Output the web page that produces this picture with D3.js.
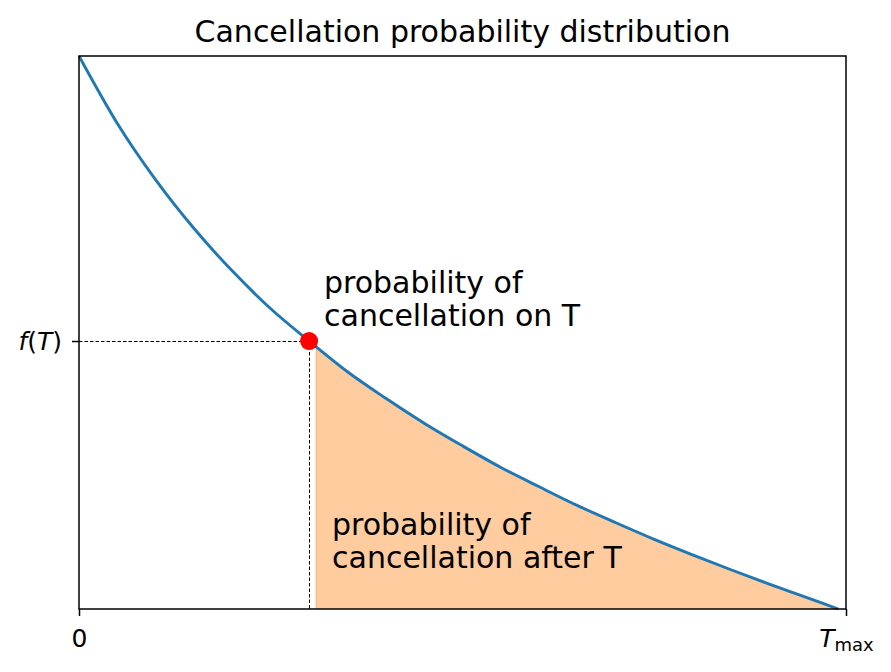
<!DOCTYPE html>
<html>
<head>
<meta charset="utf-8">
<script src="https://cdn.jsdelivr.net/npm/d3@7"></script>
<style>
  body { margin: 0; background: #fff; }
  svg text { font-family: "DejaVu Sans", sans-serif; }
</style>
</head>
<body>
<svg id="chart"></svg>
<script>
// values (t as fraction of Tmax, density normalised to f(0)=1)
var tValues = [0, 0.05, 0.1, 0.15, 0.2, 0.25, 0.3, 0.35, 0.4, 0.45, 0.5, 0.55, 0.6, 0.65, 0.7, 0.75, 0.8, 0.85, 0.9, 0.95, 0.99];
var densityValues = [1, 0.878, 0.776, 0.688, 0.611, 0.543, 0.4846, 0.429, 0.381, 0.336, 0.295, 0.256, 0.221, 0.187, 0.156, 0.126, 0.098, 0.071, 0.045, 0.020, 0];
var cancelT = [0.3];
var cancelDensity = [0.4846];
var fillStart = [0.309];
var xTickValues = [0, 1];
var xTickLabels = ["0", "Tmax"];
var annotations = ["probability of", "cancellation on T", "probability of", "cancellation after T"];

var margin = {top: 56, right: 45, bottom: 63, left: 79},
    width = 891 - margin.left - margin.right,
    height = 672 - margin.top - margin.bottom;

var data = tValues.map(function (t, i) { return {t: t, v: densityValues[i]}; });

var svg = d3.select("#chart")
    .attr("width", width + margin.left + margin.right)
    .attr("height", height + margin.top + margin.bottom);
var g = svg.append("g")
    .attr("transform", "translate(" + margin.left + "," + margin.top + ")");

var x = d3.scaleLinear().domain([0, 1]).range([0, width]);
var y = d3.scaleLinear().domain([0, 1]).range([height, 0]);

// shaded area after T
g.append("clipPath").attr("id", "after")
  .append("rect")
    .attr("x", x(fillStart[0])).attr("y", 0)
    .attr("width", width - x(fillStart[0])).attr("height", height);

var area = d3.area()
    .x(function (d) { return x(d.t); })
    .y0(y(0))
    .y1(function (d) { return y(d.v); })
    .curve(d3.curveMonotoneX);

g.append("path")
    .datum(data)
    .attr("clip-path", "url(#after)")
    .attr("fill", "#ff7f0e")
    .attr("fill-opacity", 0.4)
    .attr("d", area);
g.append("line")
    .attr("x1", x(fillStart[0])).attr("x2", x(fillStart[0]))
    .attr("y1", y(0)).attr("y2", y(cancelDensity[0]) + 6)
    .attr("stroke", "#ff7f0e").attr("stroke-opacity", 0.4).attr("stroke-width", 1);

// dashed guide lines
g.append("line")
    .attr("x1", x(0)).attr("x2", x(cancelT[0]))
    .attr("y1", Math.round(y(cancelDensity[0])) + 0.5).attr("y2", Math.round(y(cancelDensity[0])) + 0.5)
    .attr("stroke", "black").attr("stroke-width", 1).attr("stroke-dasharray", "3.5,2");
g.append("line")
    .attr("x1", Math.round(x(cancelT[0])) + 0.5).attr("x2", Math.round(x(cancelT[0])) + 0.5)
    .attr("y1", y(cancelDensity[0])).attr("y2", y(0))
    .attr("stroke", "black").attr("stroke-width", 1).attr("stroke-dasharray", "3.5,2");

// density curve
var line = d3.line()
    .x(function (d) { return x(d.t); })
    .y(function (d) { return y(d.v); })
    .curve(d3.curveMonotoneX);
g.append("path")
    .datum(data)
    .attr("fill", "none")
    .attr("stroke", "#1f77b4")
    .attr("stroke-width", 2.9)
    .attr("d", line);

g.append("circle")
    .attr("cx", x(cancelT[0])).attr("cy", y(cancelDensity[0]))
    .attr("r", 9).attr("fill", "red");

// axes
var xAxis = g.append("g")
    .attr("transform", "translate(0," + height + ")")
    .call(d3.axisBottom(x).tickValues(xTickValues).tickSize(7).tickPadding(13))
xAxis.select(".domain").remove();
xAxis.selectAll("line").attr("stroke-width", 1.5);
xAxis.selectAll("text")
    .attr("fill", "black").style("font-size", "25px")
    .each(function (d, i) {
        var t = d3.select(this).text("");
        if (xTickLabels[i] === "Tmax") {
            t.append("tspan").style("font-style", "italic").text("T");
            t.append("tspan").attr("dy", 4).style("font-size", "18px").text("max");
        } else {
            t.text(xTickLabels[i]);
        }
    });

var yAxis = g.append("g")
    .call(d3.axisLeft(y).tickValues(cancelDensity).tickSize(7).tickPadding(10));
yAxis.select(".domain").remove();
yAxis.selectAll("line").attr("stroke-width", 1.5);
yAxis.selectAll("text")
    .attr("fill", "black").style("font-size", "25px")
    .each(function () {
        var t = d3.select(this).text("");
        t.append("tspan").style("font-style", "italic").text("f");
        t.append("tspan").text("(");
        t.append("tspan").style("font-style", "italic").text("T");
        t.append("tspan").text(")");
    });

g.append("rect")
    .attr("width", width).attr("height", height)
    .attr("fill", "none").attr("stroke", "black").attr("stroke-width", 1.5);

// title
svg.append("text")
    .attr("x", margin.left + width / 2).attr("y", 42)
    .attr("text-anchor", "middle")
    .style("font-size", "30px")
    .text("Cancellation probability distribution");

// annotations
g.append("text")
    .style("font-size", "30px")
    .selectAll("tspan").data(annotations.slice(0, 2)).enter().append("tspan")
    .attr("x", 245).attr("y", function (d, i) { return 237 + i * 33; })
    .text(function (d) { return d; });
g.append("text")
    .style("font-size", "30px")
    .selectAll("tspan").data(annotations.slice(2)).enter().append("tspan")
    .attr("x", 253).attr("y", function (d, i) { return 479 + i * 33; })
    .text(function (d) { return d; });
</script>
</body>
</html>
